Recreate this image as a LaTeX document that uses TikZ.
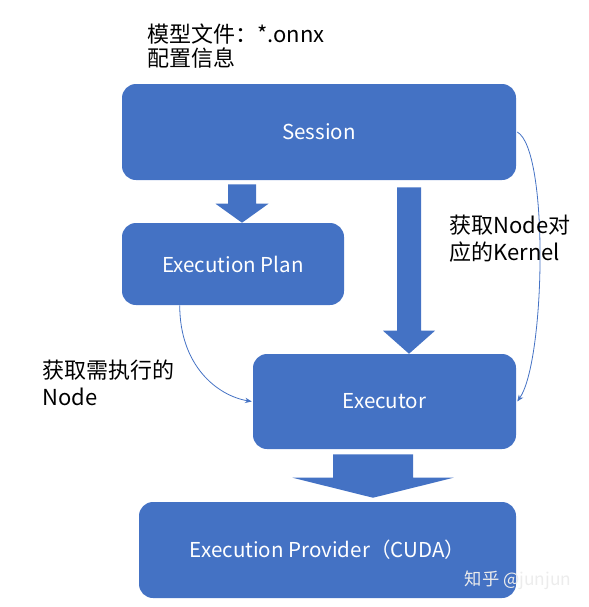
\documentclass[tikz,border=0pt]{standalone}
\usepackage{fontspec}
\setmainfont{Noto Sans CJK SC}
\usetikzlibrary{calc}
\usetikzlibrary{arrows.meta}
\definecolor{boxblue}{HTML}{4472C4}

\newcommand{\blockarr}[5]{%
  \fill[boxblue] ($(#1)+(-#3,0)$) -- ($(#1)+(#3,0)$) -- ($(#2)+(#3,-#5)$) -- ($(#2)+(#4,-#5)$)
    -- (#2) -- ($(#2)+(-#4,-#5)$) -- ($(#2)+(-#3,-#5)$) -- cycle;}

\begin{document}
\begin{tikzpicture}[x=0.75pt,y=-0.75pt,
  box/.style={fill=boxblue, rounded corners=10.5pt, text=white, font=\fontsize{15.4}{18}\selectfont},
  link/.style={draw=boxblue, line width=0.6pt, -{Stealth[length=5pt,width=4pt]}},
  note/.style={align=left, inner sep=0pt, anchor=north west, font=\fontsize{16.5}{20}\selectfont}]
\useasboundingbox (0,0) rectangle (589,607);

\node[box, minimum width=295.5pt, minimum height=72pt] (sess) at (319,132) {Session};
\node[box, minimum width=166.5pt, minimum height=61.5pt] (plan) at (233,264) {Execution Plan};
\node[box, minimum width=197.25pt, minimum height=71.25pt] (exec) at (384.5,401.5) {Executor};
\node[box, minimum width=282.75pt, minimum height=72pt] (prov) at (327.5,550) {Execution Provider（CUDA）};

% block arrows
\path (sess.south) ++(-77,4) coordinate (s1);
\coordinate (t1) at (s1 |- plan.north);
\path (sess.south) ++(90,7) coordinate (s2);
\coordinate (t2) at (s2 |- exec.north);
\path (exec.south) ++(-11.5,5) coordinate (s3);
\coordinate (t3) at ($(s3 |- prov.north)+(0,-4)$);
\blockarr{s1}{t1}{14}{26.5}{19}
\blockarr{s2}{t2}{12}{26}{23}
\blockarr{s3}{t3}{40}{80.5}{20}

% thin links
\draw[link] ($(plan.south west)+(58,0)$) .. controls +(0,60) and +(-35,-6) .. ($(exec.west)+(-1,0)$);
\draw[link] ($(sess.east)+(1,0)$) .. controls +(32,18) and +(28,-40) .. ($(exec.east)+(1,0)$);

% notes
\node[note, font=\fontsize{16.5}{18}\selectfont] (model) at (147,24) {模型文件：*.onnx\\配置信息};
\node[note] (kern) at (449,215) {获取Node对\\应的Kernel};
\node[note] (need) at (42,360) {获取需执行的\\Node};
\node[text=white!85!gray, font=\fontsize{13}{15}\selectfont] (mark) at (518,580) {知乎 @junjun};
\end{tikzpicture}
\end{document}
